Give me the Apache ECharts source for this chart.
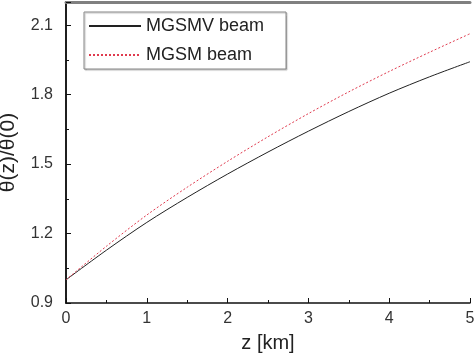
<!DOCTYPE html>
<html>
<head>
<meta charset="utf-8">
<script src="https://cdn.jsdelivr.net/npm/echarts@6/dist/echarts.min.js"></script>
<style>html,body{margin:0;padding:0;background:#fff}#c{width:474px;height:355px}</style>
</head>
<body>
<div id="c"></div>
<script>
const zValues = [0, 0.5, 1, 1.5, 2, 2.5, 3, 3.5, 4, 4.5, 5];
const mgsmv = [1.000, 1.128, 1.248, 1.356, 1.457, 1.552, 1.642, 1.727, 1.806, 1.877, 1.942];
const mgsm = [1.000, 1.145, 1.280, 1.400, 1.512, 1.618, 1.718, 1.812, 1.900, 1.983, 2.063];
const seriesNames = ['MGSMV beam', 'MGSM beam'];
const xTicks = [0, 1, 2, 3, 4, 5];
const yTicks = [0.9, 1.2, 1.5, 1.8, 2.1];

const font = 'Liberation Sans, Arial, sans-serif';
const chart = echarts.init(document.getElementById('c'));
chart.setOption({
  animation: false,
  backgroundColor: '#fff',
  grid: {left: 66, right: 4, top: 2, bottom: 52, containLabel: false, outerBoundsMode: 'none'},
  legend: {
    orient: 'vertical', left: 84, top: 12,
    padding: [5, 22, 5, 4],
    itemWidth: 52, itemHeight: 14, itemGap: 11, itemTextGap: 13,
    borderColor: '#888', borderWidth: 1,
    shadowColor: 'rgba(0,0,0,0.25)', shadowOffsetX: 1, shadowOffsetY: 1, shadowBlur: 1,
    backgroundColor: '#fff',
    itemStyle: {opacity: 0},
    textStyle: {fontFamily: font, fontSize: 18, color: '#222'},
    data: seriesNames
  },
  xAxis: [{
    type: 'value', min: 0, max: 5, interval: 1,
    name: 'z [km]', nameLocation: 'middle', nameGap: 30,
    nameTextStyle: {fontFamily: font, fontSize: 20, color: '#222'},
    axisLine: {lineStyle: {color: '#111', width: 1.5}},
    axisTick: {inside: true, length: 5, lineStyle: {color: '#111'}},
    minorTick: {show: true, splitNumber: 2, length: 3, lineStyle: {color: '#111'}},
    axisLabel: {fontFamily: font, fontSize: 16, color: '#333', margin: 8,
      formatter: v => xTicks.includes(v) ? String(v) : ''},
    splitLine: {show: false}
  }, {
    type: 'value', min: 0, max: 5, position: 'top',
    axisLine: {show: true, lineStyle: {color: '#808080', width: 3}},
    axisTick: {show: false}, axisLabel: {show: false}, splitLine: {show: false}
  }],
  yAxis: [{
    type: 'value', min: 0.9, max: 2.2, interval: 0.3,
    name: 'θ(z)/θ(0)', nameLocation: 'middle', nameGap: 47,
    nameTextStyle: {fontFamily: font, fontSize: 21, color: '#222'},
    axisLine: {show: true, lineStyle: {color: '#111', width: 1.5}},
    axisTick: {inside: true, length: 5, lineStyle: {color: '#111'}},
    minorTick: {show: true, splitNumber: 2, length: 3, lineStyle: {color: '#111'}},
    axisLabel: {fontFamily: font, fontSize: 16, color: '#333', margin: 13, showMaxLabel: false,
      formatter: v => {
        const t = yTicks.find(y => Math.abs(y - v) < 1e-6);
        return t !== undefined ? t.toFixed(1) : '';
      }},
    splitLine: {show: false}
  }, {
    type: 'value', min: 0.9, max: 2.2, position: 'right',
    axisLine: {show: true, lineStyle: {color: '#111', width: 1.5}},
    axisTick: {show: false}, axisLabel: {show: false}, splitLine: {show: false}
  }],
  series: [{
    name: seriesNames[0], type: 'line', showSymbol: false, symbol: 'none', smooth: 0.3,
    data: zValues.map((z, i) => [z, mgsmv[i]]),
    lineStyle: {color: '#222', width: 1}, itemStyle: {color: '#222'}
  }, {
    name: seriesNames[1], type: 'line', showSymbol: false, symbol: 'none', smooth: 0.3,
    data: zValues.map((z, i) => [z, mgsm[i]]),
    lineStyle: {color: '#e03a4e', width: 1, type: [2, 2]}, itemStyle: {color: '#e03a4e'}
  }]
});
</script>
</body>
</html>
